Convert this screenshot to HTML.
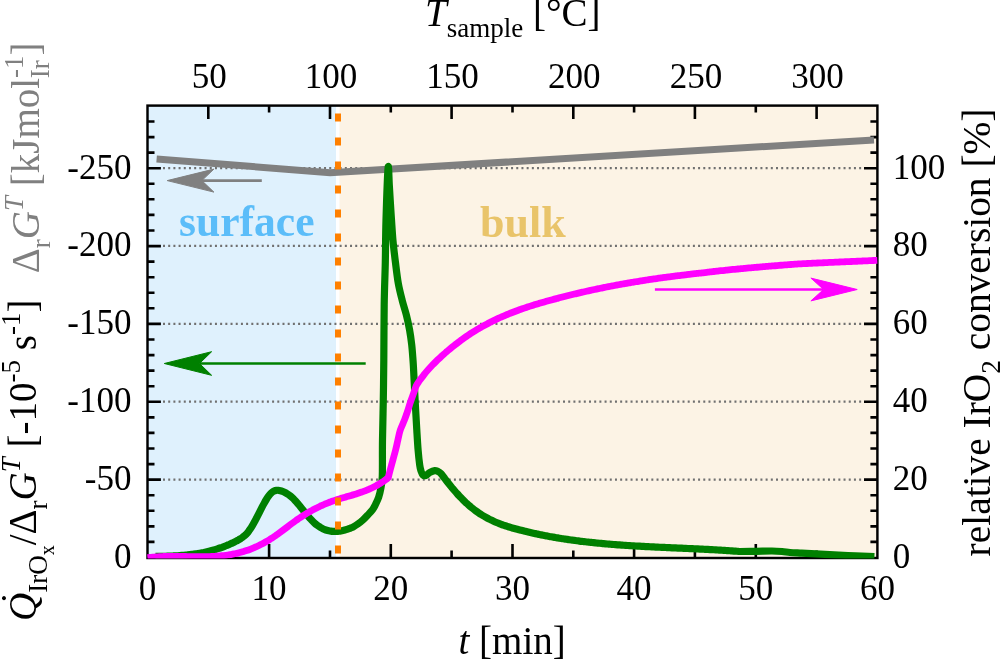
<!DOCTYPE html>
<html><head><meta charset="utf-8"><style>
html,body{margin:0;padding:0;background:#fff;}
svg{display:block;}
</style></head><body>
<svg width="1000" height="662" viewBox="0 0 1000 662">
<defs><clipPath id="pc"><rect x="147" y="104" width="731.5" height="454.6"/></clipPath></defs>
<rect width="1000" height="662" fill="#fff"/>
<rect x="147.5" y="105.5" width="188.5" height="452.0" fill="#dff1fd"/>
<rect x="339.5" y="105.5" width="537.9" height="452.0" fill="#fcf3e5"/>
<line x1="163" y1="479.54" x2="861.2" y2="479.54" stroke="#707070" stroke-width="2.3" stroke-dasharray="2 3.195"/>
<line x1="163" y1="401.68" x2="861.2" y2="401.68" stroke="#707070" stroke-width="2.3" stroke-dasharray="2 3.195"/>
<line x1="163" y1="323.82" x2="861.2" y2="323.82" stroke="#707070" stroke-width="2.3" stroke-dasharray="2 3.195"/>
<line x1="163" y1="245.96" x2="861.2" y2="245.96" stroke="#707070" stroke-width="2.3" stroke-dasharray="2 3.195"/>
<line x1="163" y1="168.10" x2="861.2" y2="168.10" stroke="#707070" stroke-width="2.3" stroke-dasharray="2 3.195"/>
<path d="M208.3,557.5 V550.5 M269.1,557.5 V544.1 M330.0,557.5 V550.5 M390.8,557.5 V544.1 M451.6,557.5 V550.5 M512.5,557.5 V544.1 M573.3,557.5 V550.5 M634.1,557.5 V544.1 M694.9,557.5 V550.5 M755.8,557.5 V544.1 M816.6,557.5 V550.5 M208.3,105.5 V118.9 M269.1,105.5 V112.5 M330.0,105.5 V118.9 M390.8,105.5 V112.5 M451.6,105.5 V118.9 M512.5,105.5 V112.5 M573.3,105.5 V118.9 M634.1,105.5 V112.5 M694.9,105.5 V118.9 M755.8,105.5 V112.5 M816.6,105.5 V118.9 M147.5,541.9 H154.5 M147.5,526.4 H154.5 M147.5,510.8 H154.5 M147.5,495.2 H154.5 M147.5,479.6 H160.9 M147.5,464.1 H154.5 M147.5,448.5 H154.5 M147.5,432.9 H154.5 M147.5,417.4 H154.5 M147.5,401.8 H160.9 M147.5,386.2 H154.5 M147.5,370.6 H154.5 M147.5,355.1 H154.5 M147.5,339.5 H154.5 M147.5,323.9 H160.9 M147.5,308.3 H154.5 M147.5,292.8 H154.5 M147.5,277.2 H154.5 M147.5,261.6 H154.5 M147.5,246.1 H160.9 M147.5,230.5 H154.5 M147.5,214.9 H154.5 M147.5,199.3 H154.5 M147.5,183.8 H154.5 M147.5,168.2 H160.9 M147.5,152.6 H154.5 M147.5,137.1 H154.5 M147.5,121.5 H154.5 M877.4,541.9 H870.4 M877.4,526.4 H870.4 M877.4,510.8 H870.4 M877.4,495.2 H870.4 M877.4,479.6 H864.0 M877.4,464.1 H870.4 M877.4,448.5 H870.4 M877.4,432.9 H870.4 M877.4,417.4 H870.4 M877.4,401.8 H864.0 M877.4,386.2 H870.4 M877.4,370.6 H870.4 M877.4,355.1 H870.4 M877.4,339.5 H870.4 M877.4,323.9 H864.0 M877.4,308.3 H870.4 M877.4,292.8 H870.4 M877.4,277.2 H870.4 M877.4,261.6 H870.4 M877.4,246.1 H864.0 M877.4,230.5 H870.4 M877.4,214.9 H870.4 M877.4,199.3 H870.4 M877.4,183.8 H870.4 M877.4,168.2 H864.0 M877.4,152.6 H870.4 M877.4,137.1 H870.4 M877.4,121.5 H870.4" stroke="#000" stroke-width="2.6" fill="none"/>
<rect x="147.5" y="105.6" width="729.9" height="452.4" fill="none" stroke="#000" stroke-width="2.45"/>
<polyline points="156.6,159 330,172.7 874,140" fill="none" stroke="#808080" stroke-width="7" stroke-linejoin="miter"/>
<text x="179" y="236" font-family="Liberation Serif, serif" font-weight="bold" font-size="43.6" fill="#5bbdf9">surface</text>
<text x="480" y="237" font-family="Liberation Serif, serif" font-weight="bold" font-size="44" fill="#e9c46a">bulk</text>
<path d="M155.50,556.43 C155.84,556.42 156.84,556.41 157.52,556.40 C158.19,556.39 158.86,556.38 159.53,556.37 C160.20,556.35 160.87,556.34 161.55,556.33 C162.22,556.31 162.89,556.30 163.56,556.28 C164.23,556.27 164.90,556.25 165.58,556.23 C166.25,556.22 166.92,556.20 167.59,556.17 C168.26,556.15 168.94,556.13 169.61,556.11 C170.28,556.08 170.95,556.06 171.62,556.03 C172.29,556.00 172.97,555.97 173.64,555.94 C174.31,555.90 174.98,555.87 175.65,555.83 C176.32,555.80 177.00,555.76 177.67,555.72 C178.34,555.68 179.01,555.63 179.68,555.58 C180.36,555.54 181.03,555.49 181.70,555.44 C182.37,555.38 183.04,555.33 183.71,555.27 C184.39,555.21 185.06,555.15 185.73,555.09 C186.40,555.02 187.07,554.95 187.74,554.88 C188.42,554.81 189.09,554.74 189.76,554.66 C190.43,554.58 191.10,554.50 191.78,554.41 C192.45,554.33 193.12,554.24 193.79,554.14 C194.46,554.05 195.13,553.95 195.81,553.85 C196.48,553.75 197.15,553.64 197.82,553.53 C198.49,553.42 199.16,553.30 199.84,553.18 C200.51,553.06 201.18,552.94 201.85,552.81 C202.52,552.68 203.20,552.55 203.87,552.41 C204.54,552.27 205.21,552.12 205.88,551.98 C206.55,551.83 207.23,551.67 207.90,551.51 C208.57,551.35 209.24,551.19 209.91,551.02 C210.59,550.85 211.26,550.67 211.93,550.49 C212.60,550.31 213.27,550.12 213.94,549.93 C214.62,549.73 215.29,549.53 215.96,549.33 C216.63,549.12 217.30,548.91 217.97,548.69 C218.65,548.47 219.32,548.25 219.99,548.02 C220.66,547.79 221.33,547.55 222.01,547.31 C222.68,547.06 223.35,546.81 224.02,546.55 C224.69,546.29 225.36,546.03 226.04,545.76 C226.71,545.49 227.38,545.21 228.05,544.92 C228.72,544.64 229.39,544.34 230.07,544.04 C230.74,543.74 231.41,543.43 232.08,543.12 C232.75,542.80 233.43,542.48 234.10,542.15 C234.77,541.81 235.44,541.47 236.11,541.13 C236.78,540.78 237.46,540.43 238.13,540.06 C238.80,539.69 239.47,539.33 240.14,538.93 C240.81,538.52 241.49,538.11 242.16,537.64 C242.83,537.17 243.50,536.68 244.17,536.11 C244.85,535.54 245.52,534.93 246.19,534.23 C246.86,533.53 247.53,532.77 248.20,531.92 C248.88,531.06 249.55,530.12 250.22,529.11 C250.89,528.10 251.56,527.01 252.23,525.88 C252.91,524.75 253.58,523.55 254.25,522.32 C254.92,521.09 255.59,519.81 256.27,518.52 C256.94,517.23 257.61,515.90 258.28,514.58 C258.95,513.26 259.62,511.92 260.30,510.60 C260.97,509.28 261.64,507.96 262.31,506.68 C262.98,505.40 263.65,504.14 264.33,502.94 C265.00,501.74 265.67,500.57 266.34,499.49 C267.01,498.41 267.69,497.38 268.36,496.45 C269.03,495.52 269.70,494.66 270.37,493.92 C271.04,493.19 271.72,492.55 272.39,492.03 C273.06,491.52 273.73,491.14 274.40,490.86 C275.07,490.57 275.75,490.41 276.42,490.32 C277.09,490.22 277.76,490.24 278.43,490.30 C279.11,490.36 279.78,490.50 280.45,490.67 C281.12,490.85 281.79,491.08 282.46,491.33 C283.14,491.59 283.81,491.88 284.48,492.21 C285.15,492.54 285.82,492.90 286.49,493.31 C287.17,493.71 287.84,494.15 288.51,494.63 C289.18,495.11 289.85,495.62 290.53,496.17 C291.20,496.73 291.87,497.32 292.54,497.95 C293.21,498.58 293.88,499.25 294.56,499.95 C295.23,500.66 295.90,501.40 296.57,502.16 C297.24,502.92 297.91,503.71 298.59,504.51 C299.26,505.31 299.93,506.14 300.60,506.97 C301.27,507.79 301.95,508.64 302.62,509.48 C303.29,510.32 303.96,511.17 304.63,512.01 C305.30,512.85 305.98,513.68 306.65,514.50 C307.32,515.32 307.99,516.13 308.66,516.91 C309.34,517.70 310.01,518.46 310.68,519.20 C311.35,519.93 312.02,520.64 312.69,521.31 C313.37,521.97 314.04,522.61 314.71,523.20 C315.38,523.80 316.05,524.36 316.72,524.88 C317.40,525.40 318.07,525.89 318.74,526.34 C319.41,526.80 320.08,527.22 320.76,527.60 C321.43,527.99 322.10,528.35 322.77,528.67 C323.44,528.99 324.11,529.29 324.79,529.55 C325.46,529.81 326.13,530.05 326.80,530.25 C327.47,530.46 328.14,530.63 328.82,530.78 C329.49,530.93 330.16,531.06 330.83,531.16 C331.50,531.25 332.18,531.33 332.85,531.37 C333.52,531.42 334.19,531.45 334.86,531.45 C335.53,531.45 336.21,531.43 336.88,531.39 C337.55,531.35 338.22,531.28 338.89,531.20 C339.56,531.12 340.24,531.01 340.91,530.89 C341.58,530.77 342.25,530.63 342.92,530.47 C343.60,530.32 344.27,530.14 344.94,529.95 C345.61,529.76 346.28,529.56 346.95,529.34 C347.63,529.12 348.30,528.88 348.97,528.64 C349.64,528.39 350.31,528.13 350.98,527.86 C351.66,527.59 351.83,527.68 353.00,527.02 C354.17,526.36 356.33,525.09 358.00,523.90 C359.67,522.71 361.42,521.33 363.00,519.90 C364.58,518.47 365.90,517.02 367.50,515.30 C369.10,513.58 371.27,511.40 372.60,509.60 C373.93,507.80 374.48,506.57 375.50,504.50 C376.52,502.43 377.80,499.93 378.70,497.20 C379.60,494.47 380.33,491.12 380.90,488.10 C381.47,485.08 381.85,482.12 382.10,479.10 C382.35,476.08 382.33,476.52 382.40,470.00 C382.47,463.48 382.35,451.67 382.50,440.00 C382.65,428.33 383.08,413.33 383.30,400.00 C383.52,386.67 383.65,375.90 383.80,360.00 C383.95,344.10 383.95,320.88 384.20,304.60 C384.45,288.32 385.00,276.40 385.30,262.30 C385.60,248.20 385.53,235.78 386.00,220.00 C386.47,204.22 387.55,173.43 388.10,167.60 C388.65,161.77 388.95,179.60 389.30,185.00 C389.65,190.40 389.83,194.17 390.20,200.00 C390.57,205.83 391.03,213.20 391.50,220.00 C391.97,226.80 392.35,233.80 393.00,240.80 C393.65,247.80 394.52,254.90 395.40,262.00 C396.28,269.10 397.17,277.02 398.30,283.40 C399.43,289.78 400.85,295.02 402.20,300.30 C403.55,305.58 405.17,310.15 406.40,315.10 C407.63,320.05 408.72,325.07 409.60,330.00 C410.48,334.93 411.13,339.70 411.70,344.70 C412.27,349.70 412.68,355.78 413.00,360.00 C413.32,364.22 413.25,363.33 413.60,370.00 C413.95,376.67 414.57,390.00 415.10,400.00 C415.63,410.00 416.30,421.67 416.80,430.00 C417.30,438.33 417.62,444.17 418.10,450.00 C418.58,455.83 419.22,461.50 419.70,465.00 C420.18,468.50 420.45,469.32 421.00,471.00 C421.55,472.68 422.17,474.37 423.00,475.10 C423.83,475.83 424.83,475.87 426.00,475.40 C427.17,474.93 428.55,473.10 430.00,472.30 C431.45,471.50 433.37,470.73 434.70,470.60 C436.03,470.47 436.95,471.01 438.00,471.50 C439.05,471.99 440.17,472.76 441.00,473.55 C441.83,474.35 442.34,475.36 443.01,476.25 C443.68,477.14 444.34,478.03 445.01,478.90 C445.68,479.78 446.35,480.64 447.02,481.50 C447.69,482.35 448.36,483.20 449.03,484.04 C449.70,484.87 450.36,485.70 451.03,486.52 C451.70,487.33 452.37,488.14 453.04,488.93 C453.71,489.72 454.38,490.50 455.05,491.27 C455.72,492.04 456.38,492.79 457.05,493.53 C457.72,494.28 458.39,495.01 459.06,495.72 C459.73,496.44 460.40,497.14 461.07,497.83 C461.74,498.52 462.40,499.20 463.07,499.86 C463.74,500.53 464.41,501.18 465.08,501.81 C465.75,502.45 466.42,503.07 467.09,503.68 C467.76,504.29 468.43,504.89 469.09,505.47 C469.76,506.05 470.43,506.62 471.10,507.17 C471.77,507.72 472.44,508.26 473.11,508.79 C473.78,509.32 474.45,509.83 475.11,510.33 C475.78,510.83 476.45,511.31 477.12,511.79 C477.79,512.26 478.46,512.72 479.13,513.17 C479.80,513.62 480.47,514.06 481.13,514.49 C481.80,514.91 482.47,515.33 483.14,515.73 C483.81,516.14 484.48,516.53 485.15,516.91 C485.82,517.30 486.49,517.67 487.15,518.03 C487.82,518.40 488.49,518.75 489.16,519.09 C489.83,519.43 490.50,519.77 491.17,520.09 C491.84,520.42 492.51,520.73 493.17,521.04 C493.84,521.35 494.51,521.65 495.18,521.94 C495.85,522.23 496.52,522.51 497.19,522.79 C497.86,523.07 498.53,523.33 499.19,523.59 C499.86,523.86 500.53,524.11 501.20,524.36 C501.87,524.61 502.54,524.85 503.21,525.08 C503.88,525.32 504.55,525.55 505.21,525.77 C505.88,526.00 506.55,526.22 507.22,526.43 C507.89,526.64 508.56,526.85 509.23,527.06 C509.90,527.26 510.57,527.46 511.23,527.66 C511.90,527.85 512.57,528.04 513.24,528.23 C513.91,528.42 514.58,528.61 515.25,528.79 C515.92,528.97 516.59,529.15 517.26,529.33 C517.92,529.50 518.59,529.68 519.26,529.85 C519.93,530.02 520.60,530.19 521.27,530.36 C521.94,530.53 522.61,530.69 523.28,530.86 C523.94,531.02 524.61,531.19 525.28,531.35 C525.95,531.51 526.62,531.67 527.29,531.83 C527.96,531.98 528.63,532.14 529.30,532.30 C529.96,532.45 530.63,532.60 531.30,532.75 C531.97,532.90 532.64,533.05 533.31,533.20 C533.98,533.35 534.65,533.50 535.32,533.64 C535.98,533.78 536.65,533.93 537.32,534.07 C537.99,534.21 538.66,534.35 539.33,534.49 C540.00,534.63 540.67,534.76 541.34,534.90 C542.00,535.03 542.67,535.17 543.34,535.30 C544.01,535.43 544.68,535.56 545.35,535.69 C546.02,535.82 546.69,535.94 547.36,536.07 C548.02,536.20 548.69,536.32 549.36,536.44 C550.03,536.57 550.70,536.69 551.37,536.81 C552.04,536.93 552.71,537.05 553.38,537.16 C554.04,537.28 554.71,537.40 555.38,537.51 C556.05,537.62 556.72,537.74 557.39,537.85 C558.06,537.96 558.73,538.07 559.40,538.18 C560.06,538.29 560.73,538.39 561.40,538.50 C562.07,538.61 562.74,538.71 563.41,538.81 C564.08,538.92 564.75,539.02 565.42,539.12 C566.09,539.22 566.75,539.32 567.42,539.42 C568.09,539.52 568.76,539.61 569.43,539.71 C570.10,539.81 570.77,539.90 571.44,539.99 C572.11,540.09 572.77,540.18 573.44,540.27 C574.11,540.36 574.78,540.45 575.45,540.54 C576.12,540.63 576.79,540.72 577.46,540.80 C578.13,540.89 578.79,540.97 579.46,541.06 C580.13,541.14 580.80,541.22 581.47,541.31 C582.14,541.39 582.81,541.47 583.48,541.55 C584.15,541.63 584.81,541.71 585.48,541.78 C586.15,541.86 586.82,541.94 587.49,542.01 C588.16,542.09 588.83,542.16 589.50,542.24 C590.17,542.31 590.83,542.38 591.50,542.45 C592.17,542.52 592.84,542.60 593.51,542.66 C594.18,542.73 594.85,542.80 595.52,542.87 C596.19,542.94 596.85,543.00 597.52,543.07 C598.19,543.14 598.86,543.20 599.53,543.26 C600.20,543.33 600.87,543.39 601.54,543.45 C602.21,543.52 602.87,543.58 603.54,543.64 C604.21,543.70 604.88,543.76 605.55,543.82 C606.22,543.87 606.89,543.93 607.56,543.99 C608.23,544.05 608.89,544.10 609.56,544.16 C610.23,544.21 610.90,544.27 611.57,544.32 C612.24,544.38 612.91,544.43 613.58,544.48 C614.25,544.54 614.91,544.59 615.58,544.64 C616.25,544.69 616.92,544.74 617.59,544.79 C618.26,544.84 618.93,544.89 619.60,544.94 C620.27,544.99 620.94,545.03 621.60,545.08 C622.27,545.13 622.94,545.17 623.61,545.22 C624.28,545.27 624.95,545.31 625.62,545.35 C626.29,545.40 626.96,545.44 627.62,545.49 C628.29,545.53 628.96,545.57 629.63,545.62 C630.30,545.66 630.97,545.70 631.64,545.74 C632.31,545.78 632.98,545.82 633.64,545.86 C634.31,545.90 634.98,545.94 635.65,545.98 C636.32,546.02 636.99,546.06 637.66,546.10 C638.33,546.14 639.00,546.18 639.66,546.21 C640.33,546.25 641.00,546.29 641.67,546.32 C642.34,546.36 643.01,546.40 643.68,546.43 C644.35,546.47 645.02,546.50 645.68,546.54 C646.35,546.57 647.02,546.61 647.69,546.64 C648.36,546.68 649.03,546.71 649.70,546.75 C650.37,546.78 651.04,546.81 651.70,546.85 C652.37,546.88 653.04,546.91 653.71,546.94 C654.38,546.98 655.05,547.01 655.72,547.04 C656.39,547.07 657.06,547.11 657.72,547.14 C658.39,547.17 659.06,547.20 659.73,547.23 C660.40,547.26 661.07,547.29 661.74,547.32 C662.41,547.36 663.08,547.39 663.74,547.42 C664.41,547.45 665.08,547.48 665.75,547.51 C666.42,547.54 667.09,547.57 667.76,547.60 C668.43,547.63 669.10,547.66 669.77,547.69 C670.43,547.72 671.10,547.75 671.77,547.78 C672.44,547.81 673.11,547.84 673.78,547.86 C674.45,547.89 675.12,547.92 675.79,547.95 C676.45,547.98 677.12,548.01 677.79,548.04 C678.46,548.07 679.13,548.10 679.80,548.13 C680.47,548.16 681.14,548.19 681.81,548.22 C682.47,548.25 683.14,548.28 683.81,548.31 C684.48,548.34 685.15,548.37 685.82,548.40 C686.49,548.43 687.16,548.46 687.83,548.49 C688.49,548.52 689.16,548.55 689.83,548.58 C690.50,548.61 691.17,548.64 691.84,548.67 C692.51,548.70 693.18,548.73 693.85,548.76 C694.51,548.79 695.18,548.82 695.85,548.86 C696.52,548.89 697.19,548.92 697.86,548.95 C698.53,548.98 699.20,549.01 699.87,549.05 C700.53,549.08 701.20,549.11 701.87,549.15 C702.54,549.18 703.21,549.21 703.88,549.24 C704.55,549.28 705.22,549.31 705.89,549.35 C706.55,549.38 707.22,549.42 707.89,549.45 C708.56,549.48 709.23,549.52 709.90,549.56 C710.57,549.59 711.24,549.63 711.91,549.66 C712.57,549.70 713.24,549.74 713.91,549.77 C714.58,549.81 715.25,549.85 715.92,549.89 C716.59,549.92 717.26,549.96 717.93,550.00 C718.60,550.04 719.26,550.08 719.93,550.12 C720.60,550.16 721.27,550.20 721.94,550.24 C722.61,550.28 723.28,550.32 723.95,550.37 C724.62,550.41 725.28,550.45 725.95,550.49 C726.62,550.54 727.29,550.58 727.96,550.63 C728.63,550.67 729.30,550.71 729.97,550.76 C730.64,550.81 731.30,550.85 731.97,550.90 C732.64,550.94 733.31,550.99 733.98,551.04 C734.65,551.09 735.32,551.14 735.99,551.19 C736.66,551.24 737.32,551.28 737.99,551.34 C738.66,551.39 737.00,551.50 740.00,551.49 C743.00,551.48 750.67,551.38 756.00,551.30 C761.33,551.22 767.67,550.97 772.00,551.00 C776.33,551.03 779.00,551.25 782.00,551.50 C785.00,551.75 787.00,552.23 790.00,552.50 C793.00,552.77 795.67,552.87 800.00,553.10 C804.33,553.33 808.00,553.50 816.00,553.90 C824.00,554.30 838.27,555.03 848.00,555.50 C857.73,555.97 870.00,556.50 874.40,556.70" fill="none" stroke="#008000" stroke-width="7.2" stroke-linejoin="round" clip-path="url(#pc)"/>
<path d="M147.50,557.72 C147.83,557.68 148.84,557.56 149.51,557.48 C150.18,557.40 150.84,557.33 151.51,557.26 C152.18,557.20 152.85,557.13 153.52,557.08 C154.19,557.02 154.86,556.96 155.53,556.91 C156.20,556.86 156.86,556.82 157.53,556.77 C158.20,556.73 158.87,556.69 159.54,556.66 C160.21,556.62 160.88,556.59 161.55,556.56 C162.22,556.54 162.88,556.51 163.55,556.49 C164.22,556.47 164.89,556.45 165.56,556.43 C166.23,556.42 166.90,556.40 167.57,556.39 C168.24,556.38 168.90,556.37 169.57,556.37 C170.24,556.36 170.91,556.36 171.58,556.35 C172.25,556.35 172.92,556.35 173.59,556.35 C174.26,556.35 174.92,556.36 175.59,556.36 C176.26,556.37 176.93,556.37 177.60,556.38 C178.27,556.39 178.94,556.40 179.61,556.40 C180.28,556.41 180.94,556.42 181.61,556.43 C182.28,556.45 182.95,556.46 183.62,556.47 C184.29,556.48 184.96,556.49 185.63,556.50 C186.30,556.52 186.96,556.53 187.63,556.54 C188.30,556.55 188.97,556.57 189.64,556.58 C190.31,556.59 190.98,556.60 191.65,556.61 C192.32,556.62 192.98,556.63 193.65,556.64 C194.32,556.65 194.99,556.66 195.66,556.66 C196.33,556.67 197.00,556.68 197.67,556.68 C198.34,556.69 199.00,556.69 199.67,556.69 C200.34,556.69 201.01,556.69 201.68,556.69 C202.35,556.68 203.02,556.68 203.69,556.67 C204.36,556.67 205.02,556.66 205.69,556.64 C206.36,556.63 207.03,556.62 207.70,556.60 C208.37,556.58 209.04,556.57 209.71,556.54 C210.38,556.52 211.04,556.49 211.71,556.46 C212.38,556.44 213.05,556.40 213.72,556.37 C214.39,556.33 215.06,556.29 215.73,556.25 C216.40,556.20 217.06,556.16 217.73,556.11 C218.40,556.06 219.07,556.00 219.74,555.94 C220.41,555.88 221.08,555.82 221.75,555.75 C222.42,555.68 223.08,555.61 223.75,555.53 C224.42,555.45 225.09,555.37 225.76,555.28 C226.43,555.19 227.10,555.10 227.77,555.00 C228.44,554.90 229.10,554.80 229.77,554.69 C230.44,554.58 231.11,554.46 231.78,554.34 C232.45,554.22 233.12,554.09 233.79,553.96 C234.46,553.82 235.12,553.68 235.79,553.54 C236.46,553.39 237.13,553.24 237.80,553.08 C238.47,552.92 239.14,552.76 239.81,552.58 C240.48,552.41 241.14,552.23 241.81,552.04 C242.48,551.86 243.15,551.66 243.82,551.46 C244.49,551.26 245.16,551.05 245.83,550.83 C246.50,550.62 247.16,550.39 247.83,550.16 C248.50,549.92 249.17,549.68 249.84,549.43 C250.51,549.19 251.18,548.93 251.85,548.66 C252.52,548.40 253.18,548.12 253.85,547.84 C254.52,547.56 255.19,547.26 255.86,546.96 C256.53,546.66 257.20,546.35 257.87,546.03 C258.54,545.71 259.20,545.39 259.87,545.05 C260.54,544.72 261.21,544.37 261.88,544.02 C262.55,543.66 263.22,543.30 263.89,542.93 C264.56,542.56 265.22,542.19 265.89,541.80 C266.56,541.41 267.23,541.02 267.90,540.62 C268.57,540.22 269.24,539.80 269.91,539.39 C270.58,538.97 271.24,538.54 271.91,538.11 C272.58,537.68 273.25,537.24 273.92,536.79 C274.59,536.34 275.26,535.88 275.93,535.42 C276.60,534.96 277.26,534.48 277.93,534.01 C278.60,533.53 279.27,533.04 279.94,532.55 C280.61,532.06 281.28,531.56 281.95,531.06 C282.62,530.55 283.28,530.04 283.95,529.53 C284.62,529.02 285.29,528.50 285.96,527.99 C286.63,527.47 287.30,526.95 287.97,526.44 C288.64,525.93 289.30,525.41 289.97,524.90 C290.64,524.40 291.31,523.89 291.98,523.39 C292.65,522.89 293.32,522.39 293.99,521.91 C294.66,521.42 295.32,520.94 295.99,520.47 C296.66,519.99 297.33,519.53 298.00,519.07 C298.67,518.61 299.34,518.16 300.01,517.71 C300.68,517.27 301.34,516.83 302.01,516.39 C302.68,515.96 303.35,515.54 304.02,515.12 C304.69,514.70 305.36,514.28 306.03,513.88 C306.70,513.47 307.36,513.07 308.03,512.68 C308.70,512.29 309.37,511.90 310.04,511.52 C310.71,511.14 311.38,510.77 312.05,510.40 C312.72,510.04 313.38,509.68 314.05,509.32 C314.72,508.97 315.39,508.62 316.06,508.28 C316.73,507.94 317.40,507.60 318.07,507.28 C318.74,506.95 319.40,506.63 320.07,506.31 C320.74,505.99 321.41,505.69 322.08,505.38 C322.75,505.08 323.42,504.78 324.09,504.49 C324.76,504.20 325.42,503.92 326.09,503.64 C326.76,503.36 327.43,503.09 328.10,502.82 C328.77,502.56 329.44,502.30 330.11,502.04 C330.78,501.79 331.44,501.54 332.11,501.30 C332.78,501.06 333.45,500.82 334.12,500.59 C334.79,500.36 335.46,500.14 336.13,499.92 C336.80,499.70 337.46,499.48 338.13,499.27 C338.80,499.06 339.47,498.85 340.14,498.65 C340.81,498.44 341.48,498.24 342.15,498.04 C342.82,497.84 343.48,497.65 344.15,497.45 C344.82,497.26 345.49,497.06 346.16,496.87 C346.83,496.67 347.50,496.48 348.17,496.29 C348.84,496.09 349.50,495.90 350.17,495.71 C350.84,495.51 351.51,495.32 352.18,495.12 C352.85,494.92 353.52,494.72 354.19,494.52 C354.86,494.31 355.52,494.11 356.19,493.90 C356.86,493.69 357.53,493.48 358.20,493.26 C358.87,493.04 359.54,492.82 360.21,492.59 C360.88,492.37 361.54,492.13 362.21,491.89 C362.88,491.66 363.55,491.41 364.22,491.16 C364.89,490.91 365.56,490.65 366.23,490.38 C366.90,490.12 367.56,489.84 368.23,489.56 C368.90,489.27 369.57,488.98 370.24,488.68 C370.91,488.38 371.58,488.07 372.25,487.75 C372.92,487.43 373.58,487.10 374.25,486.75 C374.92,486.41 375.59,486.06 376.26,485.69 C376.93,485.33 377.60,484.95 378.27,484.56 C378.94,484.17 379.60,483.76 380.27,483.35 C380.94,482.93 381.61,482.50 382.28,482.05 C382.95,481.61 383.62,481.15 384.29,480.67 C384.96,480.20 385.62,479.71 386.29,479.20 C386.96,478.69 387.97,477.89 388.30,477.63 C388.62,476.33 389.43,472.93 390.20,470.00 C390.97,467.07 392.00,463.33 392.90,460.00 C393.80,456.67 394.77,453.33 395.60,450.00 C396.43,446.67 397.12,443.33 397.90,440.00 C398.68,436.67 399.20,433.35 400.30,430.00 C401.40,426.65 403.27,423.10 404.50,419.90 C405.73,416.70 406.68,413.83 407.70,410.80 C408.72,407.77 409.58,404.72 410.60,401.70 C411.62,398.68 412.85,395.38 413.80,392.70 C414.75,390.02 415.38,387.57 416.30,385.60 C417.22,383.63 418.10,382.60 419.30,380.90 C420.50,379.20 422.27,376.98 423.50,375.40 C424.73,373.82 425.28,373.05 426.70,371.40 C428.12,369.75 430.79,366.83 432.01,365.51 C433.22,364.19 433.34,364.15 434.01,363.48 C434.68,362.81 435.35,362.15 436.02,361.50 C436.69,360.85 437.35,360.20 438.02,359.57 C438.69,358.93 439.36,358.30 440.03,357.67 C440.70,357.05 441.37,356.43 442.03,355.82 C442.70,355.21 443.37,354.61 444.04,354.01 C444.71,353.41 445.38,352.82 446.05,352.24 C446.72,351.66 447.38,351.08 448.05,350.51 C448.72,349.94 449.39,349.38 450.06,348.82 C450.73,348.27 451.40,347.72 452.06,347.17 C452.73,346.63 453.40,346.09 454.07,345.56 C454.74,345.03 455.41,344.51 456.08,343.99 C456.74,343.47 457.41,342.96 458.08,342.45 C458.75,341.94 459.42,341.44 460.09,340.95 C460.76,340.45 461.42,339.97 462.09,339.48 C462.76,339.00 463.43,338.52 464.10,338.05 C464.77,337.58 465.44,337.12 466.10,336.66 C466.77,336.20 467.44,335.74 468.11,335.29 C468.78,334.85 469.45,334.40 470.12,333.96 C470.79,333.53 471.45,333.09 472.12,332.67 C472.79,332.24 473.46,331.82 474.13,331.40 C474.80,330.98 475.47,330.57 476.13,330.17 C476.80,329.76 477.47,329.36 478.14,328.96 C478.81,328.57 479.48,328.17 480.15,327.79 C480.81,327.40 481.48,327.02 482.15,326.64 C482.82,326.26 483.49,325.89 484.16,325.52 C484.83,325.16 485.49,324.79 486.16,324.43 C486.83,324.08 487.50,323.72 488.17,323.37 C488.84,323.02 489.51,322.68 490.17,322.34 C490.84,321.99 491.51,321.66 492.18,321.32 C492.85,320.99 493.52,320.66 494.19,320.34 C494.86,320.01 495.52,319.69 496.19,319.38 C496.86,319.06 497.53,318.75 498.20,318.44 C498.87,318.13 499.54,317.83 500.20,317.53 C500.87,317.23 501.54,316.93 502.21,316.63 C502.88,316.34 503.55,316.05 504.22,315.76 C504.88,315.48 505.55,315.19 506.22,314.91 C506.89,314.64 507.56,314.36 508.23,314.09 C508.90,313.81 509.56,313.54 510.23,313.28 C510.90,313.01 511.57,312.75 512.24,312.49 C512.91,312.23 513.58,311.97 514.24,311.72 C514.91,311.46 515.58,311.21 516.25,310.96 C516.92,310.71 517.59,310.47 518.26,310.23 C518.93,309.98 519.59,309.74 520.26,309.51 C520.93,309.27 521.60,309.03 522.27,308.80 C522.94,308.57 523.61,308.34 524.27,308.11 C524.94,307.88 525.61,307.66 526.28,307.44 C526.95,307.21 527.62,306.99 528.29,306.78 C528.95,306.56 529.62,306.34 530.29,306.13 C530.96,305.91 531.63,305.70 532.30,305.49 C532.97,305.28 533.63,305.08 534.30,304.87 C534.97,304.66 535.64,304.46 536.31,304.26 C536.98,304.05 537.65,303.85 538.31,303.66 C538.98,303.46 539.65,303.26 540.32,303.06 C540.99,302.87 541.66,302.67 542.33,302.48 C543.00,302.29 543.66,302.10 544.33,301.91 C545.00,301.72 545.67,301.53 546.34,301.34 C547.01,301.15 547.68,300.97 548.34,300.78 C549.01,300.60 549.68,300.41 550.35,300.23 C551.02,300.05 551.69,299.86 552.36,299.68 C553.02,299.50 553.69,299.32 554.36,299.14 C555.03,298.96 555.70,298.78 556.37,298.61 C557.04,298.43 557.70,298.25 558.37,298.08 C559.04,297.90 559.71,297.73 560.38,297.56 C561.05,297.38 561.72,297.21 562.38,297.04 C563.05,296.87 563.72,296.70 564.39,296.53 C565.06,296.36 565.73,296.19 566.40,296.02 C567.07,295.85 567.73,295.69 568.40,295.52 C569.07,295.36 569.74,295.19 570.41,295.03 C571.08,294.86 571.75,294.70 572.41,294.54 C573.08,294.38 573.75,294.21 574.42,294.05 C575.09,293.89 575.76,293.73 576.43,293.58 C577.09,293.42 577.76,293.26 578.43,293.10 C579.10,292.95 579.77,292.79 580.44,292.64 C581.11,292.48 581.77,292.33 582.44,292.18 C583.11,292.02 583.78,291.87 584.45,291.72 C585.12,291.57 585.79,291.42 586.45,291.27 C587.12,291.12 587.79,290.97 588.46,290.82 C589.13,290.68 589.80,290.53 590.47,290.38 C591.13,290.24 591.80,290.09 592.47,289.95 C593.14,289.80 593.81,289.66 594.48,289.52 C595.15,289.38 595.82,289.23 596.48,289.09 C597.15,288.95 597.82,288.81 598.49,288.67 C599.16,288.53 599.83,288.40 600.50,288.26 C601.16,288.12 601.83,287.98 602.50,287.85 C603.17,287.71 603.84,287.58 604.51,287.44 C605.18,287.31 605.84,287.18 606.51,287.04 C607.18,286.91 607.85,286.78 608.52,286.65 C609.19,286.52 609.86,286.39 610.52,286.26 C611.19,286.13 611.86,286.00 612.53,285.87 C613.20,285.75 613.87,285.62 614.54,285.49 C615.20,285.37 615.87,285.24 616.54,285.12 C617.21,284.99 617.88,284.87 618.55,284.74 C619.22,284.62 619.89,284.50 620.55,284.38 C621.22,284.26 621.89,284.14 622.56,284.02 C623.23,283.90 623.90,283.78 624.57,283.66 C625.23,283.54 625.90,283.42 626.57,283.30 C627.24,283.19 627.91,283.07 628.58,282.96 C629.25,282.84 629.91,282.73 630.58,282.61 C631.25,282.50 631.92,282.38 632.59,282.27 C633.26,282.16 633.93,282.05 634.59,281.94 C635.26,281.83 635.93,281.71 636.60,281.60 C637.27,281.50 637.94,281.39 638.61,281.28 C639.27,281.17 639.94,281.06 640.61,280.95 C641.28,280.85 641.95,280.74 642.62,280.64 C643.29,280.53 643.96,280.43 644.62,280.32 C645.29,280.22 645.96,280.11 646.63,280.01 C647.30,279.91 647.97,279.81 648.64,279.70 C649.30,279.60 649.97,279.50 650.64,279.40 C651.31,279.30 651.98,279.20 652.65,279.10 C653.32,279.00 653.98,278.91 654.65,278.81 C655.32,278.71 655.99,278.61 656.66,278.52 C657.33,278.42 658.00,278.33 658.66,278.23 C659.33,278.14 660.00,278.04 660.67,277.95 C661.34,277.86 662.01,277.76 662.68,277.67 C663.34,277.58 664.01,277.49 664.68,277.39 C665.35,277.30 666.02,277.21 666.69,277.12 C667.36,277.03 668.03,276.94 668.69,276.85 C669.36,276.77 670.03,276.68 670.70,276.59 C671.37,276.50 672.04,276.41 672.71,276.33 C673.37,276.24 674.04,276.16 674.71,276.07 C675.38,275.99 676.05,275.90 676.72,275.82 C677.39,275.73 678.05,275.65 678.72,275.57 C679.39,275.48 680.06,275.40 680.73,275.32 C681.40,275.24 682.07,275.16 682.73,275.08 C683.40,274.99 684.07,274.91 684.74,274.83 C685.41,274.76 686.08,274.68 686.75,274.60 C687.41,274.52 688.08,274.44 688.75,274.36 C689.42,274.29 690.09,274.21 690.76,274.13 C691.43,274.06 692.10,273.98 692.76,273.91 C693.43,273.83 694.10,273.75 694.77,273.68 C695.44,273.61 696.11,273.53 696.78,273.46 C697.44,273.39 698.11,273.31 698.78,273.24 C699.45,273.17 700.12,273.09 700.79,273.01 C701.46,272.94 702.12,272.85 702.79,272.77 C703.46,272.69 704.13,272.61 704.80,272.54 C705.47,272.46 706.14,272.38 706.80,272.30 C707.47,272.22 708.14,272.15 708.81,272.07 C709.48,271.99 710.15,271.92 710.82,271.84 C711.48,271.76 712.15,271.69 712.82,271.61 C713.49,271.54 714.16,271.46 714.83,271.39 C715.50,271.32 716.17,271.24 716.83,271.17 C717.50,271.10 718.17,271.02 718.84,270.95 C719.51,270.88 720.18,270.81 720.85,270.73 C721.51,270.66 722.18,270.59 722.85,270.52 C723.52,270.45 724.19,270.38 724.86,270.31 C725.53,270.24 726.19,270.17 726.86,270.10 C727.53,270.03 728.20,269.96 728.87,269.90 C729.54,269.83 730.21,269.76 730.87,269.69 C731.54,269.63 732.21,269.56 732.88,269.49 C733.55,269.43 734.22,269.36 734.89,269.29 C735.55,269.23 736.22,269.16 736.89,269.10 C737.56,269.03 738.23,268.97 738.90,268.90 C739.57,268.84 740.23,268.77 740.90,268.71 C741.57,268.65 742.24,268.58 742.91,268.52 C743.58,268.46 744.25,268.39 744.92,268.33 C745.58,268.27 746.25,268.21 746.92,268.15 C747.59,268.08 748.26,268.02 748.93,267.96 C749.60,267.90 750.26,267.84 750.93,267.78 C751.60,267.72 752.27,267.66 752.94,267.60 C753.61,267.54 754.28,267.48 754.94,267.42 C755.61,267.36 756.28,267.31 756.95,267.25 C757.62,267.19 758.29,267.13 758.96,267.07 C759.62,267.01 760.29,266.96 760.96,266.90 C761.63,266.84 762.30,266.79 762.97,266.73 C763.64,266.67 764.30,266.62 764.97,266.56 C765.64,266.50 766.31,266.45 766.98,266.39 C767.65,266.34 768.32,266.28 768.99,266.23 C769.65,266.17 770.32,266.12 770.99,266.06 C771.66,266.01 772.33,265.95 773.00,265.90 C773.67,265.85 774.33,265.79 775.00,265.74 C775.67,265.68 776.34,265.63 777.01,265.58 C777.68,265.53 778.35,265.47 779.01,265.42 C779.68,265.37 780.35,265.32 781.02,265.26 C781.69,265.21 782.36,265.16 783.03,265.11 C783.69,265.06 784.36,265.00 785.03,264.95 C785.70,264.90 786.37,264.85 787.04,264.80 C787.71,264.75 788.37,264.70 789.04,264.65 C789.71,264.60 790.38,264.55 791.05,264.50 C791.72,264.45 792.39,264.40 793.06,264.35 C793.72,264.30 794.39,264.25 795.06,264.20 C795.73,264.15 796.40,264.10 797.07,264.05 C797.74,264.00 798.40,263.95 799.07,263.90 C799.74,263.86 800.41,263.82 801.08,263.78 C801.75,263.75 802.42,263.72 803.08,263.69 C803.75,263.65 804.42,263.62 805.09,263.59 C805.76,263.56 806.43,263.52 807.10,263.49 C807.76,263.46 808.43,263.43 809.10,263.40 C809.77,263.36 810.44,263.33 811.11,263.30 C811.78,263.27 812.44,263.24 813.11,263.21 C813.78,263.17 814.45,263.14 815.12,263.11 C815.79,263.08 816.46,263.05 817.13,263.02 C817.79,262.99 818.46,262.96 819.13,262.93 C819.80,262.90 820.47,262.86 821.14,262.83 C821.81,262.80 822.47,262.77 823.14,262.74 C823.81,262.71 824.48,262.68 825.15,262.65 C825.82,262.62 826.49,262.59 827.15,262.56 C827.82,262.53 828.49,262.50 829.16,262.47 C829.83,262.44 830.50,262.41 831.17,262.38 C831.83,262.35 832.50,262.32 833.17,262.29 C833.84,262.26 834.51,262.23 835.18,262.20 C835.85,262.17 836.51,262.14 837.18,262.11 C837.85,262.08 838.52,262.05 839.19,262.02 C839.86,261.99 840.53,261.96 841.20,261.94 C841.86,261.91 842.53,261.88 843.20,261.85 C843.87,261.82 844.54,261.79 845.21,261.76 C845.88,261.73 846.54,261.70 847.21,261.67 C847.88,261.64 848.55,261.61 849.22,261.58 C849.89,261.55 850.56,261.52 851.22,261.49 C851.89,261.46 852.56,261.43 853.23,261.40 C853.90,261.37 854.57,261.35 855.24,261.32 C855.90,261.29 856.57,261.26 857.24,261.23 C857.91,261.20 858.58,261.17 859.25,261.14 C859.92,261.11 860.58,261.08 861.25,261.05 C861.92,261.02 862.59,260.99 863.26,260.96 C863.93,260.93 864.60,260.90 865.27,260.87 C865.93,260.84 866.60,260.81 867.27,260.78 C867.94,260.75 868.61,260.72 869.28,260.69 C869.95,260.66 870.61,260.63 871.28,260.60 C871.95,260.57 872.62,260.54 873.29,260.50 C873.96,260.47 874.63,260.44 875.29,260.41 C875.96,260.38 876.97,260.33 877.30,260.32 " fill="none" stroke="#ff00ff" stroke-width="6.8" stroke-linejoin="round" clip-path="url(#pc)"/>
<line x1="201.8" y1="180.6" x2="261.8" y2="180.6" stroke="#808080" stroke-width="2.6"/><path d="M167.2,180.6 L213.9,169.1 L201.8,180.6 L213.9,192.1 Z" fill="#808080" stroke="#808080" stroke-width="1" stroke-linejoin="miter"/>
<line x1="199.5" y1="363.5" x2="365.7" y2="363.5" stroke="#008000" stroke-width="2.6"/><path d="M164.3,363.5 L211.6,351.7 L199.5,363.5 L211.6,375.3 Z" fill="#008000" stroke="#008000" stroke-width="1" stroke-linejoin="miter"/>
<line x1="654.9" y1="289.5" x2="823.6" y2="289.5" stroke="#ff00ff" stroke-width="2.6"/>
<path d="M857.2,289.5 L810.9,278.1 L823.6,289.5 L810.9,300.9 Z" fill="#ff00ff" stroke="#ff00ff" stroke-width="1"/>
<line x1="338" y1="113.6" x2="338" y2="557" stroke="#ff8000" stroke-width="6" stroke-dasharray="8 16"/>
<text x="147.5" y="599.6" text-anchor="middle" font-family="Liberation Serif, serif" font-size="35" fill="#000">0</text>
<text x="269.1" y="599.6" text-anchor="middle" font-family="Liberation Serif, serif" font-size="35" fill="#000">10</text>
<text x="390.8" y="599.6" text-anchor="middle" font-family="Liberation Serif, serif" font-size="35" fill="#000">20</text>
<text x="512.5" y="599.6" text-anchor="middle" font-family="Liberation Serif, serif" font-size="35" fill="#000">30</text>
<text x="634.1" y="599.6" text-anchor="middle" font-family="Liberation Serif, serif" font-size="35" fill="#000">40</text>
<text x="755.8" y="599.6" text-anchor="middle" font-family="Liberation Serif, serif" font-size="35" fill="#000">50</text>
<text x="877.4" y="599.6" text-anchor="middle" font-family="Liberation Serif, serif" font-size="35" fill="#000">60</text>
<text x="209.3" y="87.6" text-anchor="middle" font-family="Liberation Serif, serif" font-size="35" fill="#000">50</text>
<text x="331.0" y="87.6" text-anchor="middle" font-family="Liberation Serif, serif" font-size="35" fill="#000">100</text>
<text x="452.6" y="87.6" text-anchor="middle" font-family="Liberation Serif, serif" font-size="35" fill="#000">150</text>
<text x="574.3" y="87.6" text-anchor="middle" font-family="Liberation Serif, serif" font-size="35" fill="#000">200</text>
<text x="695.9" y="87.6" text-anchor="middle" font-family="Liberation Serif, serif" font-size="35" fill="#000">250</text>
<text x="817.6" y="87.6" text-anchor="middle" font-family="Liberation Serif, serif" font-size="35" fill="#000">300</text>
<text x="131.5" y="567.8" text-anchor="end" font-family="Liberation Serif, serif" font-size="35" fill="#000">0</text>
<text x="131.5" y="489.9" text-anchor="end" font-family="Liberation Serif, serif" font-size="35" fill="#000">-50</text>
<text x="131.5" y="412.1" text-anchor="end" font-family="Liberation Serif, serif" font-size="35" fill="#000">-100</text>
<text x="131.5" y="334.2" text-anchor="end" font-family="Liberation Serif, serif" font-size="35" fill="#000">-150</text>
<text x="131.5" y="256.4" text-anchor="end" font-family="Liberation Serif, serif" font-size="35" fill="#000">-200</text>
<text x="131.5" y="178.5" text-anchor="end" font-family="Liberation Serif, serif" font-size="35" fill="#000">-250</text>
<text x="892.8" y="567.8" font-family="Liberation Serif, serif" font-size="35" fill="#000">0</text>
<text x="892.8" y="489.9" font-family="Liberation Serif, serif" font-size="35" fill="#000">20</text>
<text x="892.8" y="412.1" font-family="Liberation Serif, serif" font-size="35" fill="#000">40</text>
<text x="892.8" y="334.2" font-family="Liberation Serif, serif" font-size="35" fill="#000">60</text>
<text x="892.8" y="256.4" font-family="Liberation Serif, serif" font-size="35" fill="#000">80</text>
<text x="892.8" y="178.5" font-family="Liberation Serif, serif" font-size="35" fill="#000">100</text>
<text x="425" y="26" font-family="Liberation Serif, serif" font-size="39" fill="#000"><tspan font-style="italic">T</tspan><tspan font-size="27" dy="11">sample</tspan><tspan dy="-11"> [°C]</tspan></text>
<text x="458.5" y="654.2" font-family="Liberation Serif, serif" font-size="39" fill="#000"><tspan font-style="italic">t</tspan> [min]</text>
<text transform="translate(990,556.4) rotate(-90)" font-family="Liberation Serif, serif" font-size="39.4" fill="#000">relative IrO<tspan font-size="27.3" dy="10.3">2</tspan><tspan dy="-10.3"> conversion [%]</tspan></text>
<text transform="translate(39,273.3) rotate(-90)" font-family="Liberation Serif, serif" font-size="39" fill="#808080">Δ<tspan font-size="27" dy="10.8">r</tspan><tspan dy="-10.8" font-style="italic">G</tspan><tspan font-size="27" dy="-16" font-style="italic">T</tspan><tspan dy="16"> [kJmol</tspan><tspan font-size="27" dy="-16">-1</tspan><tspan font-size="27" dx="-22.8" dy="26">Ir</tspan><tspan dx="4.8" dy="-10">]</tspan></text>
<text transform="translate(36.3,621) rotate(-90)" font-family="Liberation Serif, serif" font-size="39" fill="#000"><tspan font-style="italic">Q</tspan><tspan font-size="27" dy="10.8">IrO</tspan><tspan font-size="20" dy="6.5">x</tspan><tspan dy="-17.3">/Δ</tspan><tspan font-size="27" dy="10.8">r</tspan><tspan dy="-10.8" font-style="italic">G</tspan><tspan font-size="27" dy="-16" font-style="italic">T</tspan><tspan dy="16"> [-10</tspan><tspan font-size="27" dy="-16">-5</tspan><tspan dy="16"> s</tspan><tspan font-size="27" dy="-16">-1</tspan><tspan dy="16">]</tspan></text>
<text transform="translate(36.3,621) rotate(-90)" x="16.4" y="-9.1" font-size="38" font-family="Liberation Serif, serif" fill="#000">˙</text>
</svg>
</body></html>
